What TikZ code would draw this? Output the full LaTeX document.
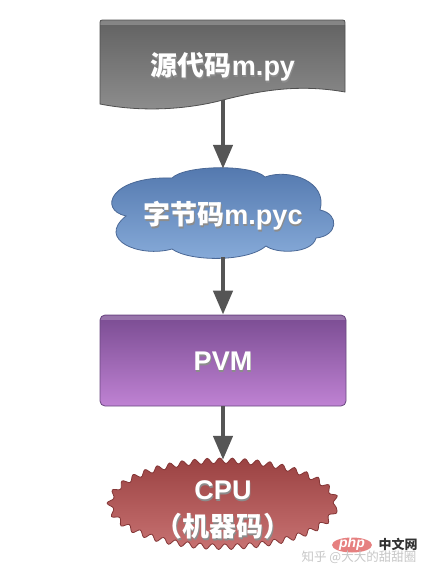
\documentclass[tikz,border=0pt]{standalone}
\usepackage{fontspec}
\setmainfont{Liberation Sans}
\newfontfamily\cjk{Noto Sans CJK SC}
\usetikzlibrary{arrows.meta,decorations.pathmorphing}
\definecolor{srctop}{HTML}{626262}
\definecolor{srcbot}{HTML}{8E8E8E}
\definecolor{srcedge}{HTML}{505050}
\definecolor{cloudtop}{HTML}{5277AD}
\definecolor{cloudbot}{HTML}{88ACDA}
\definecolor{cloudedge}{HTML}{4A6896}
\definecolor{pvmtop}{HTML}{7A4C92}
\definecolor{pvmbot}{HTML}{BF82D3}
\definecolor{pvmedge}{HTML}{6A4880}
\definecolor{cputop}{HTML}{9A4242}
\definecolor{cpubot}{HTML}{C87272}
\definecolor{cpuedge}{HTML}{843636}
\definecolor{arrowgray}{HTML}{555555}
\definecolor{phpred}{HTML}{E26A6A}
\newcommand{\shtxt}[1]{\leavevmode\rlap{\kern0.6pt\raisebox{-1.8pt}{\textcolor{black!45}{#1}}}#1}
\begin{document}
\begin{tikzpicture}[x=1pt,y=-1pt,
  lbl/.style={text=white, font=\bfseries\fontsize{27}{37}\selectfont, align=center, inner sep=0pt},
  flow/.style={draw=arrowgray, line width=4.5pt, -{Triangle[width=19pt,length=24pt]}},
  anchorbox/.style={inner sep=0pt, minimum width=#1}]
\useasboundingbox (0,0) rectangle (432,576);
\fill[white] (0,0) rectangle (432,576);

% ---- source document shape
\def\srcpath{(100,104) -- (100,25) .. controls (100,20) .. (105,20) -- (340,20) .. controls (345,20) .. (345,25) -- (345,92) .. controls (300,84) and (262,90) .. (223,100) .. controls (185,110) and (140,112) .. (100,104) -- cycle}
\path[top color=srctop, bottom color=srcbot] \srcpath;
\begin{scope}
  \clip \srcpath;
  \fill[white, opacity=0.22] (95,18) rectangle (350,25);
\end{scope}
\draw[srcedge, line width=0.8pt] \srcpath;
\node[anchorbox=245pt, minimum height=80pt] (src) at (223,60) {};

% ---- bytecode cloud
\def\cloudpath{(126,216)
 .. controls (98,210) and (110,176) .. (172,178)
 .. controls (185,165) and (252,164) .. (265,177)
 .. controls (290,168) and (328,182) .. (320,210)
 .. controls (340,214) and (338,236) .. (316,238)
 .. controls (312,254) and (276,254) .. (266,246)
 .. controls (248,262) and (190,262) .. (172,249)
 .. controls (140,258) and (96,240) .. (126,216) -- cycle}
\path[top color=cloudtop, bottom color=cloudbot] \cloudpath;
\draw[cloudedge, line width=0.8pt] \cloudpath;
\node[anchorbox=222pt, minimum height=88pt] (byte) at (223,213) {};

% ---- PVM box
\node[rectangle, rounded corners=5pt, minimum width=246pt, minimum height=91pt, inner sep=0pt,
      top color=pvmtop, bottom color=pvmbot, draw=pvmedge, line width=0.8pt] (pvm) at (223,360.5) {};
\begin{scope}
  \clip[rounded corners=5pt] (100.5,315.5) rectangle (345.5,405.5);
  \fill[white, opacity=0.22] (95,314) rectangle (350,320);
\end{scope}

% ---- CPU wavy ellipse
\path[decorate, decoration={snake, segment length=12.5pt, amplitude=2.8pt},
      top color=cputop, bottom color=cpubot, draw=cpuedge, line width=0.8pt]
      (223,507) ellipse [x radius=113pt, y radius=43pt];
\node[anchorbox=234pt, minimum height=96pt] (cpu) at (223,508) {};

% ---- connectors
\draw[flow] (src.south) -- (byte.north);
\draw[flow] (byte.south) -- (pvm.north);
\draw[flow] (pvm.south) -- (cpu.north);

% ---- labels with soft shadow
\node[lbl] (srcT) at (223,68) {\shtxt{{\cjk 源代码}m.py}};
\node[lbl] (byteT) at (223,217) {\shtxt{{\cjk 字节码}m.pyc}};
\node[lbl] (pvmT) at (223,362) {\shtxt{PVM}};
\node[lbl] (cpuT) at (223,511) {\shtxt{CPU}\\\shtxt{\cjk （机器码）}};

% ---- watermark
\fill[phpred, opacity=0.85] (352,545) ellipse [x radius=20pt, y radius=7.5pt];
\node[text=white, font=\bfseries\itshape\fontsize{14}{14}\selectfont, inner sep=0pt] (php) at (352,544) {php};
\node[text=black!80, font=\cjk\bfseries\fontsize{13}{13}\selectfont, inner sep=0pt] (cnweb) at (398,544) {中文网};
\node[text=black!22, font=\cjk\fontsize{12.5}{12.5}\selectfont, inner sep=0pt] (zhihu) at (359,557) {知乎 @大大的甜甜圈};
\end{tikzpicture}
\end{document}
